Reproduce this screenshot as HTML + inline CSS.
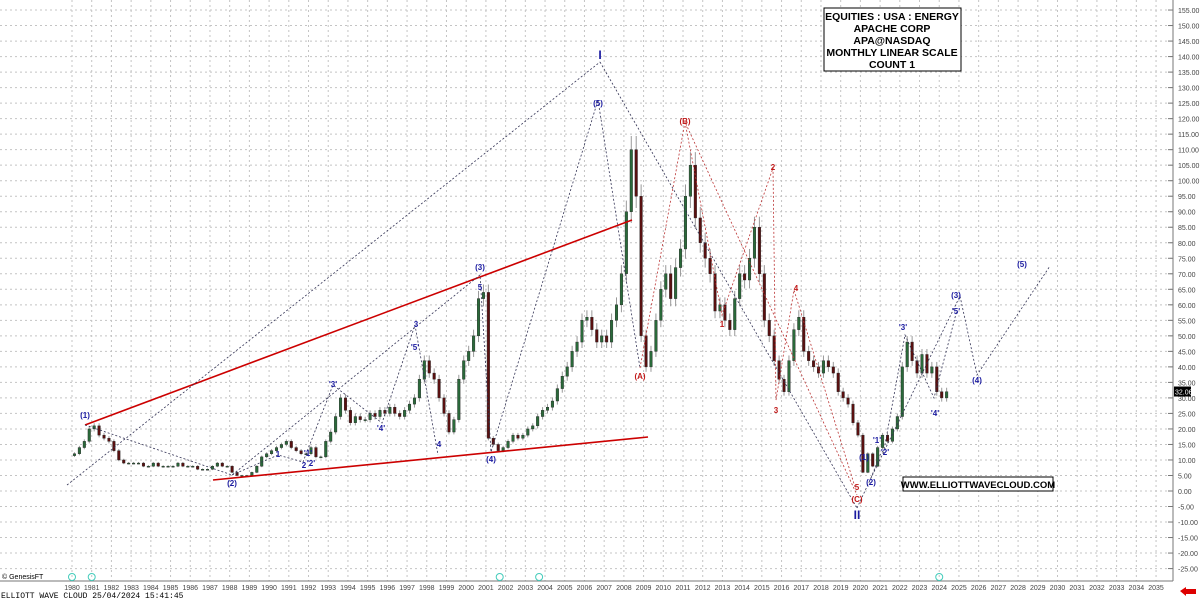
<!DOCTYPE html>
<html><head><meta charset="utf-8"><style>
body{margin:0;background:#fff;width:1200px;height:600px;overflow:hidden;font-family:"Liberation Sans",sans-serif}
svg{display:block}
</style></head><body>
<svg id="chart" width="1200" height="600" xmlns="http://www.w3.org/2000/svg">
<g id="grid"></g>
<g id="candles"></g>
<g id="waves"></g>
<g id="labels"></g>
<g id="axis"></g>
<g id="xaxis"></g>
<g>
<rect x="824" y="8" width="137" height="63" fill="#fff" stroke="#000"/>
<text x="892" y="20" font-size="10.5" font-weight="bold" text-anchor="middle">EQUITIES : USA : ENERGY</text>
<text x="892" y="32" font-size="10.5" font-weight="bold" text-anchor="middle">APACHE CORP</text>
<text x="892" y="44" font-size="10.5" font-weight="bold" text-anchor="middle">APA@NASDAQ</text>
<text x="892" y="56" font-size="10.5" font-weight="bold" text-anchor="middle">MONTHLY LINEAR SCALE</text>
<text x="892" y="68" font-size="10.5" font-weight="bold" text-anchor="middle">COUNT 1</text>
</g>
<g>
<rect x="903" y="477" width="150" height="14" fill="#fff" stroke="#000"/>
<text x="978" y="488" font-size="9.5" font-weight="bold" text-anchor="middle">WWW.ELLIOTTWAVECLOUD.COM</text>
</g>
<text x="2" y="579" font-size="7" fill="#000">© GenesisFT</text>
<text x="1" y="598" font-size="8" font-family="Liberation Mono,monospace">ELLIOTT WAVE CLOUD   25/04/2024 15:41:45</text>
<polygon points="1180,591 1186,587 1186,589 1196,589 1196,594 1186,594 1186,596" fill="#d00"/>
</svg>
<script>
const startYear = 1980;
const closes = [12,14,16,20, 21,18,17,16, 13,10,9,9, 9,9,8,8, 9,8,8,8, 8,9,8,8, 8,7,7,7, 8,9,8,8, 6,5,5,5, 6,8,11,12,
13,14,15,16, 14,13,12,12, 14,11,11,16, 19,24,30,26, 22,24,23,23, 25,24,26,25, 27,25,24,26, 28,30,36,42, 38,36,30,25, 19,23,36,42,
45,50,62,64, 17,15,13,14, 16,18,17,18, 20,21,24,26, 27,29,33,37, 40,45,48,55, 56,52,48,50, 48,55,60,70, 90,110,95,50, 40,45,55,65,
70,62,72,78, 95,105,88,80, 75,70,58,60, 55,52,62,70, 68,75,85,70, 55,50,42,36, 32,42,52,56, 45,42,40,38, 42,40,38,32, 30,28,22,18,
6,12,8,14, 18,16,20,24, 40,48,42,38, 44,38,40,32, 30,32];
const yTicks = [155,150,145,140,135,130,125,120,115,110,105,100,95,90,85,80,75,70,65,60,55,50,45,40,35,30,25,20,15,10,5,0,-5,-10,-15,-20,-25];
const years = [1980,1981,1982,1983,1984,1985,1986,1987,1988,1989,1990,1991,1992,1993,1994,1995,1996,1997,1998,1999,2000,2001,2002,2003,2004,2005,2006,2007,2008,2009,2010,2011,2012,2013,2014,2015,2016,2017,2018,2019,2020,2021,2022,2023,2024,2025,2026,2027,2028,2029,2030,2031,2032,2033,2034,2035];
const lastPrice = 32.06;

const NS="http://www.w3.org/2000/svg";
const X = yr => 72 + (yr-1980)*19.71;
const Y = v => 491 - v*3.103;
function mk(tag, attrs, parent){const e=document.createElementNS(NS,tag);for(const k in attrs)e.setAttribute(k,attrs[k]);parent.appendChild(e);return e;}

const grid=document.getElementById('grid');
yTicks.forEach(v=>{const l=mk('line',{x1:0,x2:1173,y1:Y(v),y2:Y(v),stroke:'#c4c4c4','stroke-dasharray':'2,3','stroke-width':1},grid);

});
years.forEach(y=>{const l=mk('line',{x1:X(y),x2:X(y),y1:0,y2:581,stroke:'#c4c4c4','stroke-dasharray':'2,3','stroke-width':1},grid);

});

const axis=document.getElementById('axis');
const al=mk('line',{x1:1173,x2:1173,y1:0,y2:581,stroke:'#777'},axis);


const bl=mk('line',{x1:0,x2:1173,y1:581,y2:581,stroke:'#777'},axis);


yTicks.forEach(v=>{mk('line',{x1:1168,x2:1173,y1:Y(v),y2:Y(v),stroke:'#777'},axis);
const t=mk('text',{x:1178,y:Y(v)+3,'font-size':7,fill:'#444'},axis);t.textContent=v.toFixed(2);

});
const pm=mk('rect',{x:1174,y:Y(lastPrice)-5,width:17,height:10,fill:'#000'},axis);


const pt=mk('text',{x:1175,y:Y(lastPrice)+3,'font-size':7,fill:'#fff'},axis);pt.textContent=lastPrice.toFixed(2);



const xa=document.getElementById('xaxis');
years.forEach(y=>{const t=mk('text',{x:X(y),y:590,'font-size':7,fill:'#444','text-anchor':'middle'},xa);t.textContent=y;

});
[1980.0,1981.0,2001.7,2003.7,2024.0].forEach(y=>{const c=mk('circle',{cx:X(y),cy:577,r:3.5,fill:'none',stroke:'#4cb','stroke-width':1},xa);

});

const cg=document.getElementById('candles');
closes.forEach((c,i)=>{const o=i?closes[i-1]:c*0.95;const x=X(startYear+i*0.25+0.125);
const hi=Math.max(o,c)*1.04, lo=Math.min(o,c)*0.96;
const w=mk('line',{x1:x,x2:x,y1:Y(hi),y2:Y(lo),stroke:'#999','stroke-width':1},cg);


const b=mk('rect',{x:x-1.3,y:Y(Math.max(o,c)),width:2.6,height:Math.max(1,Math.abs(Y(o)-Y(c))),fill:c>=o?'#2a6a3a':'#5a1010',stroke:'#222','stroke-width':0.4},cg);

});

const wg=document.getElementById('waves');
function line(p,col,dash,wd,name){const l=mk('polyline',{points:p.map(q=>q.join(',')).join(' '),fill:'none',stroke:col,'stroke-dasharray':dash,'stroke-width':wd},wg);

}
line([[85,425],[632,220]],'#c00','',1.6,'upper-trendline');
line([[213,480],[648,437]],'#c00','',1.6,'lower-trendline');
const B='#335',R='#b33';
line([[67,485],[600,62]],B,'2,2',0.8,'wave-I-line');
line([[85,425],[232,475],[480,275],[491,452],[598,100]],B,'2,2',0.8,'primary-waves');
line([[600,62],[857,508]],B,'2,2',0.8,'wave-II-line');
line([[857,508],[871,478],[960,296],[977,375],[1050,266]],B,'2,2',0.8,'projected-waves');
line([[598,100],[640,368]],B,'2,2',0.8,'wave-A-line');
line([[640,368],[685,122],[857,495]],R,'2,2',0.8,'abc-waves');
line([[685,122],[722,315],[773,168],[776,400],[794,290],[855,487]],R,'2,2',0.8,'c-subwaves');
line([[232,475],[278,455],[303,462],[333,385],[382,423],[415,325],[438,455]],B,'2,2',0.8,'minor-waves');
line([[871,478],[880,455],[884,450],[905,335],[934,398],[957,310]],B,'2,2',0.8,'minor-waves-2');

const lg=document.getElementById('labels');
function lab(x,y,s,col,sz,name){const t=mk('text',{x:x,y:y,fill:col,'font-size':sz||8,'font-weight':'bold','text-anchor':'middle'},lg);t.textContent=s;

}
const BL='#1a1aa0',RD='#c01818';
[[85,418,'(1)'],[232,486,'(2)'],[480,270,'(3)'],[491,462,'(4)'],[598,106,'(5)'],[278,457,'1'],[304,468,'2'],[333,387,"'3'"],[415,350,"'5'"],[381,431,"'4'"],[308,456,"'1'"],[311,466,"'2'"],[416,327,'3'],[439,447,'4'],[480,290,'5'],
[864,460,'(1)'],[871,485,'(2)'],[877,443,"'1'"],[885,455,"'2'"],[903,330,"'3'"],[935,416,"'4'"],[956,298,'(3)'],[956,314,"'5'"],[977,383,'(4)'],[1022,267,'(5)']].forEach(a=>lab(a[0],a[1],a[2],BL,8,'wave-label'));
[[640,379,'(A)'],[685,124,'(B)'],[857,502,'(C)'],[722,327,'1'],[773,170,'2'],[776,413,'3'],[796,291,'4'],[857,490,'5']].forEach(a=>lab(a[0],a[1],a[2],RD,8,'wave-label-red'));
lab(600,59,'I',BL,12,'wave-I-label');
lab(857,519,'II',BL,12,'wave-II-label');
</script>
</body></html>
